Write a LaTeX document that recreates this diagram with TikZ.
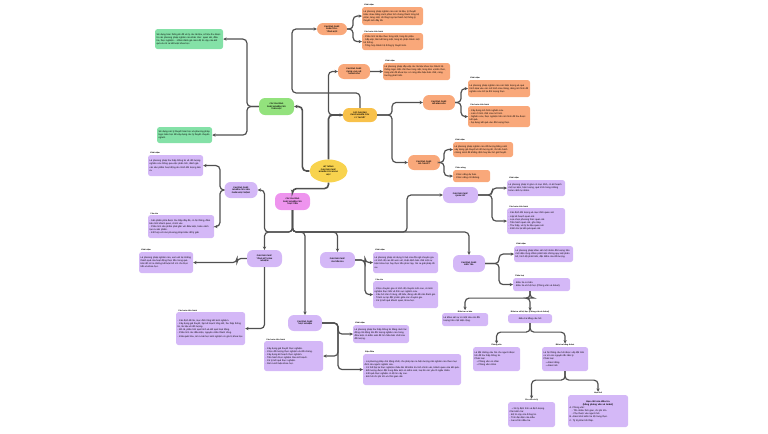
\documentclass[tikz,border=0pt]{standalone}
\usepackage{fontspec}
\setmainfont{Liberation Sans}
\usetikzlibrary{arrows.meta,positioning,shapes.geometric}

\definecolor{mint}{HTML}{84E1A7}
\definecolor{lime}{HTML}{93E27D}
\definecolor{peach}{HTML}{F9A87A}
\definecolor{amber}{HTML}{F8C14A}
\definecolor{sun}{HTML}{F8D34E}
\definecolor{lav}{HTML}{D4B8F7}
\definecolor{orchid}{HTML}{EE94EE}
\definecolor{wire}{HTML}{505050}

\begin{document}
\begin{tikzpicture}[
    x=1mm, y=-1mm,
    topic/.style={rounded corners=6mm, fill=#1, align=center, inner sep=0.8mm,
                  font=\fontsize{5.6}{7.2}\selectfont\bfseries},
    note/.style={rounded corners=2.5mm, fill=#1, align=left, anchor=north west,
                 inner xsep=1.6mm, inner ysep=1.2mm, font=\fontsize{6.6}{8.8}\selectfont},
    tag/.style={font=\fontsize{5.6}{6.5}\selectfont\bfseries, inner sep=0.4mm},
    link/.style={draw=wire, line width=1.2mm, rounded corners=4mm,
                 -{Stealth[length=3.4mm, width=3.2mm]}},
    main/.style={link, line width=1.6mm}
]
\useasboundingbox (0,0) rectangle (768,433);

% ---- center
\node[ellipse, fill=sun, minimum width=38mm, minimum height=23mm, inner sep=0pt,
      align=center, font=\fontsize{5.6}{7.2}\selectfont\bfseries]
      (ctr) at (328.5,171) {HỆ THỐNG\\PHƯƠNG PHÁP\\NGHIÊN CỨU KHOA\\HỌC};

% ---- toan hoc
\node[topic=lime, minimum width=35mm, minimum height=17mm] (gn) at (276.5,106.5)
      {CÁC PHƯƠNG\\PHÁP NGHIÊN CỨU\\TOÁN HỌC};
\node[note=mint, text width=64.8mm, minimum height=20mm] (gA) at (155,29)
      {Sử dụng toán thống kê để xử lý các tài liệu, số liệu thu được từ các phương pháp nghiên cứu khác như: quan sát, điều tra, thực nghiệm... nhằm đánh giá mức độ tin cậy của kết quả và rút ra kết luận khoa học.};
\node[note=mint, text width=51.8mm, minimum height=16mm] (gB) at (157,127)
      {Sử dụng các lý thuyết toán học và phương pháp logic toán học để xây dựng các lý thuyết chuyên ngành.};

% ---- ly thuyet
\node[topic=amber, minimum width=34mm, minimum height=14mm] (ob) at (360,115)
      {CÁC PHƯƠNG\\PHÁP NGHIÊN CỨU\\LÝ THUYẾT};
\node[topic=peach, minimum width=30mm, minimum height=12mm] (pt) at (332,29)
      {PHƯƠNG PHÁP\\PHÂN TÍCH -\\TỔNG HỢP};
\node[topic=peach, minimum width=32mm, minimum height=15mm] (pl) at (354,71.5)
      {PHƯƠNG PHÁP\\PHÂN LOẠI, HỆ\\THỐNG HÓA};
\node[topic=peach, minimum width=32mm, minimum height=15mm] (mh) at (439,102.5)
      {PHƯƠNG PHÁP\\MÔ HÌNH HÓA};
\node[topic=peach, minimum width=32mm, minimum height=15mm] (gt) at (424,162.5)
      {PHƯƠNG PHÁP\\GIẢ THUYẾT};

\node[note=peach, text width=57.8mm, minimum height=18mm] (ptA) at (362,7)
      {Là phương pháp nghiên cứu các tài liệu, lý thuyết khác nhau bằng cách phân tích chúng thành từng bộ phận, từng mặt, rồi tổng hợp lại thành hệ thống lý thuyết mới đầy đủ.};
\node[note=peach, text width=57.8mm, minimum height=17mm] (ptB) at (362,33)
      {- Phân tích tài liệu theo từng mặt, từng bộ phận.\\- Sắp xếp, liên kết từng mặt, từng bộ phận thành một hệ thống.\\- Tổng hợp thành hệ thống lý thuyết mới.};
\node[note=peach, text width=63.8mm, minimum height=17mm] (plA) at (383,63)
      {Là phương pháp sắp xếp các tài liệu khoa học thành hệ thống logic chặt chẽ theo từng mặt, từng đơn vị kiến thức, từng vấn đề khoa học có cùng dấu hiệu bản chất, cùng hướng phát triển.};
\node[note=peach, text width=58.8mm, minimum height=17mm] (mhA) at (468,80)
      {Là phương pháp nghiên cứu các hiện tượng và quá trình dựa vào các mô hình của chúng, dùng mô hình để nghiên cứu trở lại đối tượng thực.};
\node[note=peach, text width=58.8mm, minimum height=21mm] (mhB) at (468,106)
      {- Xây dựng mô hình nghiên cứu.\\- Làm rõ tính chất của mô hình.\\- Nghiên cứu, thực nghiệm trên mô hình để thu được kết quả.\\- Áp dụng kết quả vào đối tượng thực.};
\node[note=peach, text width=56.8mm, minimum height=15mm] (gtA) at (453,142)
      {Là phương pháp nghiên cứu đối tượng bằng cách xây dựng giả thuyết về đối tượng đó, rồi tiến hành chứng minh để khẳng định hay bác bỏ giả thuyết.};
\node[note=peach, text width=33.8mm, minimum height=12mm] (gtB) at (453,170)
      {- Chức năng dự báo.\\- Chức năng chỉ đường.};

\node[tag, above right=0.4mm and 2mm of ptA.north west] {Khái niệm};
\node[tag, above right=0.4mm and 2mm of ptB.north west] {Các bước tiến hành};
\node[tag, above right=0.4mm and 2mm of plA.north west] {Khái niệm};
\node[tag, above right=0.4mm and 2mm of mhA.north west] {Khái niệm};
\node[tag, above right=0.4mm and 2mm of mhB.north west] {Các bước tiến hành};
\node[tag, above right=0.4mm and 2mm of gtA.north west] {Khái niệm};
\node[tag, above right=0.4mm and 2mm of gtB.north west] {Chức năng};

% ---- thuc tien
\node[topic=orchid, minimum width=35mm, minimum height=17mm] (pb) at (292.5,201.5)
      {CÁC PHƯƠNG\\PHÁP NGHIÊN CỨU\\THỰC TIỄN};
\node[topic=lav, minimum width=33mm, minimum height=16mm] (sp) at (241,190)
      {PHƯƠNG PHÁP\\NGHIÊN CỨU SẢN\\PHẨM HOẠT ĐỘNG};
\node[topic=lav, minimum width=35mm, minimum height=17mm] (tk) at (264.5,258.5)
      {PHƯƠNG PHÁP\\TỔNG KẾT KINH\\NGHIỆM};
\node[topic=lav, minimum width=35mm, minimum height=16mm] (cg) at (337.5,260)
      {PHƯƠNG PHÁP\\CHUYÊN GIA};
\node[topic=lav, minimum width=35mm, minimum height=16mm] (qs) at (460.5,195)
      {PHƯƠNG PHÁP\\QUAN SÁT};
\node[topic=lav, minimum width=34mm, minimum height=16mm] (tn) at (305,323)
      {PHƯƠNG PHÁP\\THỰC NGHIỆM};
\node[topic=lav, minimum width=32mm, minimum height=17mm] (dt) at (469,263.5)
      {PHƯƠNG PHÁP\\ĐIỀU TRA};

\node[note=lav, text width=51.8mm, minimum height=21mm] (spA) at (148,155)
      {Là phương pháp thu thập thông tin về đối tượng nghiên cứu thông qua việc phân tích, đánh giá các sản phẩm hoạt động do chính đối tượng làm ra.};
\node[note=lav, text width=62.8mm, minimum height=23mm] (spB) at (148,215)
      {- Sản phẩm phải được thu thập đầy đủ, có hệ thống, đảm bảo tính khách quan, chính xác.\\- Phân tích sản phẩm phải gắn với điều kiện, hoàn cảnh tạo ra sản phẩm.\\- Kết hợp với các phương pháp khác để lý giải.};
\node[note=lav, text width=50.8mm, minimum height=21mm] (tkA) at (139,252)
      {Là phương pháp nghiên cứu, xem xét lại những thành quả của hoạt động thực tiễn trong quá khứ để rút ra những kết luận bổ ích cho thực tiễn và khoa học.};
\node[note=lav, text width=65.8mm, minimum height=33mm] (tkB) at (176,312)
      {- Xác định đề tài, mục đích tổng kết kinh nghiệm.\\- Xây dựng giả thuyết, lập kế hoạch tổng kết, thu thập thông tin, tài liệu về đối tượng.\\- Mô tả, phân tích quá trình và kết quả hoạt động.\\- Phân tích các điều kiện, nguyên nhân thành công.\\- Khái quát hóa, rút ra bài học kinh nghiệm có giá trị khoa học.};
\node[note=lav, text width=61.8mm, minimum height=21mm] (cgA) at (373,252)
      {Là phương pháp sử dụng trí tuệ của đội ngũ chuyên gia có trình độ cao để xem xét, nhận định bản chất một sự kiện khoa học hay thực tiễn phức tạp, tìm ra giải pháp tối ưu.};
\node[note=lav, text width=61.8mm, minimum height=27mm] (cgB) at (373,281)
      {- Chọn chuyên gia có trình độ chuyên môn cao, có kinh nghiệm thực tiễn về lĩnh vực nghiên cứu.\\- Câu hỏi cần rõ ràng, dễ hiểu, đúng vấn đề cần đánh giá.\\- Tránh sự áp đặt ý kiến giữa các chuyên gia.\\- Xử lý kết quả khách quan, khoa học.};
\node[note=lav, text width=54.8mm, minimum height=16mm] (qsA) at (507,180)
      {Là phương pháp tri giác có mục đích, có kế hoạch một sự kiện, hiện tượng, quá trình trong những hoàn cảnh tự nhiên.};
\node[note=lav, text width=54.8mm, minimum height=26mm] (qsB) at (507,208)
      {- Xác định đối tượng và mục đích quan sát.\\- Lập kế hoạch quan sát.\\- Lựa chọn phương thức quan sát.\\- Tiến hành quan sát, ghi chép.\\- Thu thập, xử lý tài liệu quan sát.\\- Kiểm tra lại kết quả quan sát.};
\node[note=lav, text width=52.8mm, minimum height=18mm] (tnA) at (353,325)
      {Là phương pháp thu thập thông tin bằng cách tác động chủ động lên đối tượng nghiên cứu trong điều kiện có kiểm soát để tìm hiểu bản chất của đối tượng.};
\node[note=lav, text width=55.8mm, minimum height=30mm] (tnB) at (264,341)
      {- Xây dựng giả thuyết thực nghiệm.\\- Chọn đối tượng thực nghiệm và đối chứng.\\- Xây dựng kế hoạch thực nghiệm.\\- Tiến hành thực nghiệm theo kế hoạch.\\- Xử lý kết quả thực nghiệm.\\- Rút ra kết luận khoa học.};
\node[note=lav, text width=94.8mm, minimum height=31mm] (tnC) at (363,354)
      {- Là phương pháp chủ động nhất, cho phép tạo ra hiện tượng cần nghiên cứu theo mục đích của người nghiên cứu.\\- Có thể lặp lại thực nghiệm nhiều lần để kiểm tra tính chính xác, khách quan của kết quả.\\- Đối tượng được đặt trong điều kiện có kiểm soát, loại bỏ các yếu tố ngẫu nhiên.\\- Kết quả thực nghiệm có độ tin cậy cao.\\- Đòi hỏi chi phí lớn và thời gian dài.};
\node[note=lav, text width=55.8mm, minimum height=16mm] (dtA) at (514,246)
      {Là phương pháp khảo sát một nhóm đối tượng trên một diện rộng nhằm phát hiện những quy luật phân bố, trình độ phát triển, đặc điểm của đối tượng.};
\node[note=lav, text width=53.8mm, minimum height=13mm] (dtB) at (513,278)
      {- Điều tra cơ bản.\\- Điều tra xã hội học (Phỏng vấn và Anket).};
\node[note=lav, text width=42.8mm, minimum height=13mm] (dtC) at (442,313)
      {Là khảo sát sự có mặt của các đối tượng trên một diện rộng.};
\node[note=lav, text width=40.8mm, minimum height=9mm, align=center] (dtD) at (508,314)
      {Điều tra bằng câu hỏi};
\node[note=lav, text width=43.8mm, minimum height=24mm] (dtE) at (473,347)
      {Là đặt những câu hỏi cho người được hỏi để thu thập thông tin.\\Phân loại:\\\quad • Phỏng vấn cá nhân\\\quad • Phỏng vấn nhóm};
\node[note=lav, text width=42.8mm, minimum height=24mm] (dtF) at (542,347)
      {Là hệ thống câu hỏi được xếp đặt trên cơ sở các nguyên tắc tâm lý.\\Phân loại:\\\quad • Anket đóng\\\quad • Anket mở};
\node[note=lav, text width=43.8mm, minimum height=25mm] (dtG) at (508,402)
      {\quad • Xử lý định tính và định lượng.\\Cần kiểm tra:\\- Độ tin cậy của thông tin.\\- Tính đại diện của mẫu.\\- Sai số khi điều tra.};
\node[note=lav, text width=56.8mm, minimum height=32mm] (dtH) at (568,395)
      {\centering\bfseries Hạn chế của điều tra\\(bằng phỏng vấn và Anket)\par
       \raggedright\mdseries A. Phỏng vấn:\\\quad - Tốn nhiều thời gian, chi phí lớn.\\\quad - Phụ thuộc vào người hỏi.\\B. Anket khó kiểm tra độ trung thực.\\C. Tỷ lệ phản hồi thấp.};

\node[tag, above right=0.4mm and 2mm of spA.north west] {Khái niệm};
\node[tag, above right=0.4mm and 2mm of spB.north west] {Yêu cầu};
\node[tag, above right=0.4mm and 2mm of tkA.north west] {Khái niệm};
\node[tag, above right=0.4mm and 2mm of tkB.north west] {Các bước tiến hành};
\node[tag, above right=0.4mm and 2mm of cgA.north west] {Khái niệm};
\node[tag, above right=0.4mm and 2mm of cgB.north west] {Yêu cầu};
\node[tag, above right=0.4mm and 2mm of qsA.north west] {Khái niệm};
\node[tag, above right=0.4mm and 2mm of qsB.north west] {Các bước tiến hành};
\node[tag, above right=0.4mm and 2mm of tnA.north west] {Khái niệm};
\node[tag, above right=0.4mm and 2mm of tnB.north west] {Các bước tiến hành};
\node[tag, above right=0.4mm and 2mm of tnC.north west] {Đặc điểm};
\node[tag, above right=0.4mm and 2mm of dtA.north west] {Khái niệm};
\node[tag, above right=0.4mm and 2mm of dtB.north west] {Phân loại};
\node[tag, above=0.4mm of dtC.north] (dtCtag) {Điều tra cơ bản};
\node[tag, above=0.4mm of dtD.north] (dtDtag) {Điều tra xã hội học (Phỏng vấn và Anket)};
\node[tag, above=0.4mm of dtE.north] (dtEtag) {Phỏng vấn};
\node[tag, above=0.4mm of dtF.north] (dtFtag) {Điều tra bằng Anket};
\node[tag, above=0.4mm of dtG.north] (dtGtag) {Yêu cầu xử lý};
\node[tag, above=0.4mm of dtH.north] (dtHtag) {Hạn chế};

% ---- links
\draw[main] (ctr.west) -- ++(-7,0) |- (gn.east);
\draw[main] (ctr.north) |- (ob.west);
\draw[main] (ctr.south) -- ++(0,6) -| (pb.north);

\draw[link] (gn.west) -- ++(-12,0) |- (gA.east);
\draw[link] (gn.west) -- ++(-12,0) |- (gB.east);

\draw[link] (ob.west) -- ++(-14.5,0) |- (pl.west);
\draw[link] (ob.north) |- ++(-68,-15) |- (pt.west);
\draw[link] (ob.east) -- ++(15,0) |- (mh.west);
\draw[link] (ob.east) -- ++(15,0) |- (gt.west);
\draw[link] (pt.east) -- ++(6,0) |- (ptA.west);
\draw[link] (pt.east) -- ++(6,0) |- (ptB.west);
\draw[link] (pl.east) -- (plA.west);
\draw[link] (mh.east) -- ++(6,0) |- (mhA.west);
\draw[link] (mh.east) -- ++(6,0) |- (mhB.west);
\draw[link] (gt.east) -- ++(4,0) |- (gtA.west);
\draw[link] (gt.east) -- ++(4,0) |- (gtB.west);

\draw[link] (pb.south) -- ++(0,22) -- ++(-28,0) |- (sp.east);
\draw[link] (pb.south) -- ++(0,22) -| (tk.north);
\draw[link] (pb.south) -- ++(0,22) -| (tn.north);
\draw[link] (pb.south) -- ++(0,22) -| (cg.north);
\draw[link] (pb.south) -- ++(0,22) -- ++(114.5,0) |- (qs.west);
\draw[link] (pb.south) -- ++(0,22) -| (dt.north);

\draw[link] (sp.west) -- ++(-4.5,0) |- (spA.east);
\draw[link] (sp.west) -- ++(-4.5,0) |- (spB.east);
\draw[link] (tk.west) -- ++(-10,0) |- (tkA.east);
\draw[link] (tk.south) |- (tkB.east);
\draw[link] (cg.east) -- ++(10,0) |- (cgA.west);
\draw[link] (cg.east) -- ++(10,0) |- (cgB.west);
\draw[link] (qs.east) -- ++(14,0) |- (qsA.west);
\draw[link] (qs.east) -- ++(14,0) |- (qsB.west);
\draw[link] (tn.east) -- ++(16,0) |- (tnA.west);
\draw[link] (tn.east) -- ++(16,0) |- (tnB.east);
\draw[link] (tn.east) -- ++(16,0) |- (tnC.west);
\draw[link] (dt.east) -- ++(14,0) |- (dtA.west);
\draw[link] (dt.east) -- ++(14,0) |- (dtB.west);
\draw[link] ([xshift=-11.5mm]dtB.south) -- ++(0,7) -| (dtCtag.north);
\draw[link] ([xshift=-11.5mm]dtB.south) -- ++(0,7) -| (dtDtag.north);
\draw[link] (dtD.south) -- ++(0,9) -| (dtEtag.north);
\draw[link] (dtD.south) -- ++(0,9) -| (dtFtag.north);
\draw[link] (dtF.south) -- ++(0,9) -| (dtGtag.north);
\draw[link] (dtF.south) -- ++(0,9) -| (dtHtag.north);
\end{tikzpicture}
\end{document}
